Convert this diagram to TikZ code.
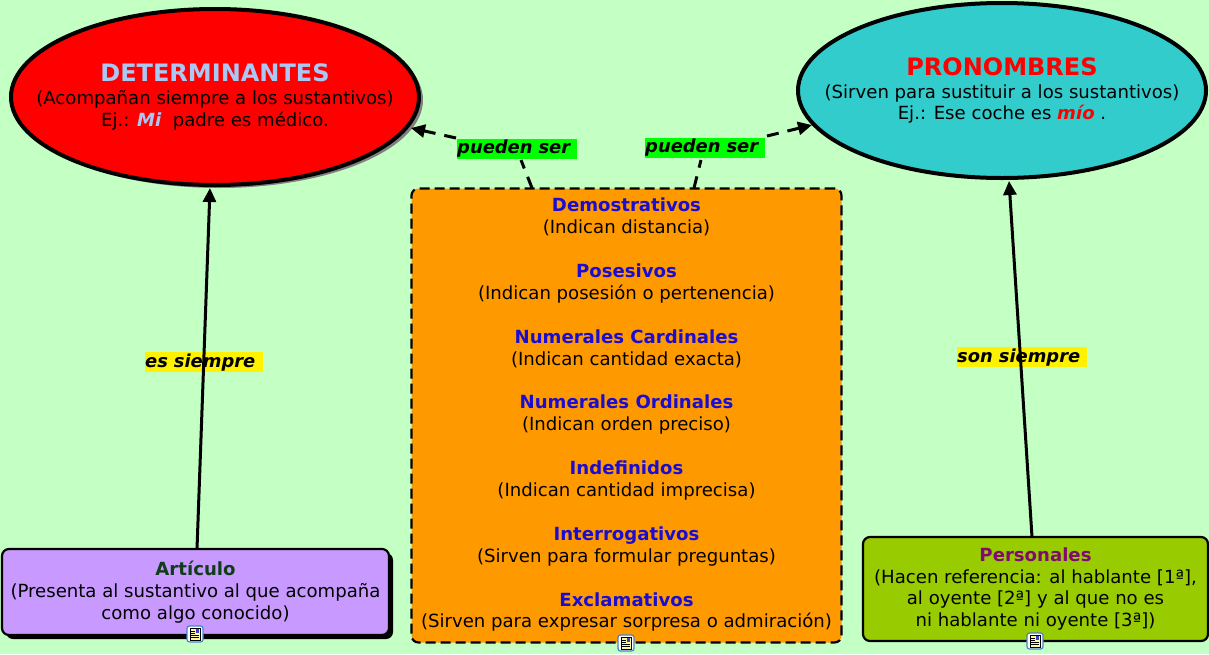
\documentclass[tikz,border=0pt]{standalone}
\usepackage{fontspec}
\setmainfont{DejaVu Sans}
\usetikzlibrary{shapes.geometric,arrows.meta,shadows}
\definecolor{bgc}{HTML}{C4FFC4}
\definecolor{titleb}{HTML}{1A0DD1}
\definecolor{detc}{HTML}{A8C8F5}
\definecolor{artc}{HTML}{0F3D1A}
\definecolor{perc}{HTML}{800A6E}
\tikzset{
  x=1pt,y=-1pt,
  >={Triangle[length=14pt,width=13pt]},
  body/.style={font=\fontsize{18.1}{21.9}\selectfont,align=center,text=black},
  concept/.style={shape=ellipse,draw=black,line width=4pt,inner sep=-60pt,body},
  boxed/.style={shape=rectangle,rounded corners=7pt,draw=black,line width=2.2pt,inner sep=0pt,body},
  conn/.style={line width=3pt,draw=black},
  dconn/.style={conn,dash pattern=on 12pt off 9pt},
  link/.style={shape=rectangle,inner sep=0pt,anchor=west,text height=15pt,text depth=5pt,font=\fontsize{17.9}{20}\selectfont\bfseries\itshape,text=black},
  docicon/.pic={
    \fill[white,draw={rgb,255:red,70;green,130;blue,200},line width=1.2pt,rounded corners=2.5pt] (-8,-8) rectangle (8,8);
    \fill[yellow!40!white,draw=black,line width=.8pt] (-5,-6) rectangle (5,6);
    \draw[black,line width=.7pt] (-4,-3)--(0,-3) (-4,-1)--(0,-1) (-4,1)--(4,1) (-4,3)--(4,3);
    \fill[blue!50!gray] (1,-5) rectangle (4,-1);
  }
}
\begin{document}
\begin{tikzpicture}
\useasboundingbox[fill=bgc] (0,0) rectangle (1209,654);

\node[concept,fill=red,minimum width=408pt,minimum height=176pt,
      drop shadow={shadow xshift=4pt,shadow yshift=-3pt,fill=gray,opacity=1}] (det) at (215,97)
  {{\fontsize{24}{26}\selectfont\bfseries\color{detc}DETERMINANTES}\\[1pt]
   (Acompañan siempre a los sustantivos)\\
   Ej.: {\bfseries\itshape\color{detc}Mi}\ \ padre es médico.};

\node[concept,fill={rgb,255:red,51;green,204;blue,204},minimum width=408pt,minimum height=175pt] (pro) at (1002,90.5)
  {{\fontsize{24}{26}\selectfont\bfseries\color{red}PRONOMBRES}\\[1pt]
   (Sirven para sustituir a los sustantivos)\\
   Ej.: Ese coche es {\bfseries\itshape\color{red}mío}\ .};

\node[boxed,fill={rgb,255:red,255;green,153;blue,0},dash pattern=on 10pt off 5pt,minimum width=430pt,minimum height=454pt] (mid) at (626.5,415.5)
  {{\bfseries\color{titleb}Demostrativos}\\
   (Indican distancia)\\[21.9pt]
   {\bfseries\color{titleb}Posesivos}\\
   (Indican posesión o pertenencia)\\[21.9pt]
   {\bfseries\color{titleb}Numerales Cardinales}\\
   (Indican cantidad exacta)\\[21.9pt]
   {\bfseries\color{titleb}Numerales Ordinales}\\
   (Indican orden preciso)\\[21.9pt]
   {\bfseries\color{titleb}Indefinidos}\\
   (Indican cantidad imprecisa)\\[21.9pt]
   {\bfseries\color{titleb}Interrogativos}\\
   (Sirven para formular preguntas)\\[21.9pt]
   {\bfseries\color{titleb}Exclamativos}\\
   (Sirven para expresar sorpresa o admiración)\\[-17pt]
   \mbox{}};

\node[boxed,fill={rgb,255:red,200;green,153;blue,255},minimum width=387pt,minimum height=86pt,
      drop shadow={shadow xshift=4pt,shadow yshift=-4pt,fill=black,opacity=1}] (art) at (195.5,592)
  {{\bfseries\color{artc}Artículo}\\
   (Presenta al sustantivo al que acompaña\\
   como algo conocido)\\[-18pt]\mbox{}};

\node[boxed,fill={rgb,255:red,153;green,204;blue,0},minimum width=345pt,minimum height=104pt] (per) at (1035.5,589)
  {{\bfseries\color{perc}Personales}\\
   (Hacen referencia: al hablante [1ª],\\
   al oyente [2ª] y al que no es\\
   ni hablante ni oyente [3ª])};

\node[link,fill=yellow,text width=118pt] (l1) at (145,362) {es siempre};
\node[link,fill=yellow,text width=130pt] (l2) at (957,357) {son siempre};
\node[link,fill=green,text width=120pt] (l3) at (457,148.5) {pueden ser};
\node[link,fill=green,text width=120pt] (l4) at (645,147.5) {pueden ser};

\coordinate (a1) at (197,549);
\coordinate (a2) at (210,188);
\coordinate (b1) at (1032,537);
\coordinate (b2) at (1009,181);
\coordinate (c1) at (532,188);
\coordinate (c2) at (521,160);
\coordinate (c3) at (456,138);
\coordinate (c4) at (411,128);
\coordinate (d1) at (694,188);
\coordinate (d2) at (701,160);
\coordinate (d3) at (767,136);
\coordinate (d4) at (812,125);

\draw[conn,->] (a1) -- (a2);
\draw[conn,->] (b1) -- (b2);
\draw[dconn] (c1) -- (c2);
\draw[dconn,->] (c3) -- (c4);
\draw[dconn] (d1) -- (d2);
\draw[dconn,->] (d3) -- (d4);

\pic at (195,634) {docicon};
\pic at (626,643) {docicon};
\pic at (1035,641) {docicon};
\end{tikzpicture}
\end{document}
